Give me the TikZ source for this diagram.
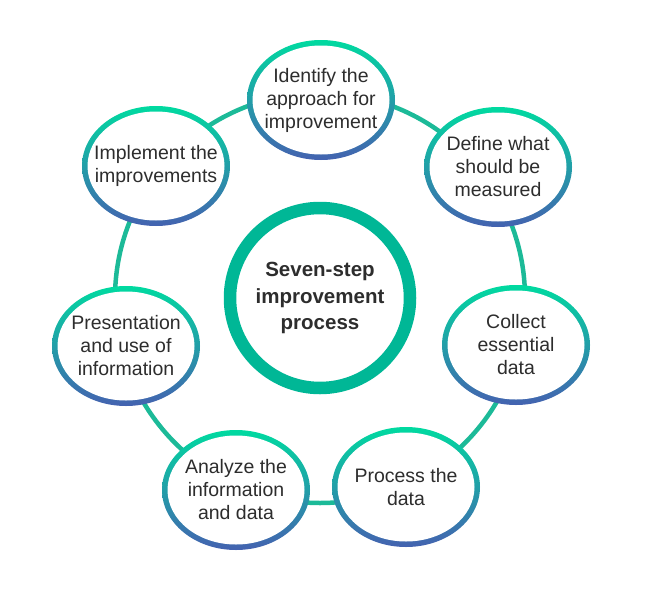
\documentclass[tikz,border=0pt]{standalone}
\usepackage{fontspec}
\setmainfont{Liberation Sans}
\usetikzlibrary{shapes.geometric,backgrounds}
\definecolor{mint}{RGB}{0,218,160}
\definecolor{sea}{RGB}{16,178,162}
\definecolor{slate}{RGB}{68,98,176}
\definecolor{ringteal}{RGB}{0,183,150}
\definecolor{orbitteal}{RGB}{28,186,152}
\definecolor{inkgray}{RGB}{45,45,45}
\begin{document}
\begin{tikzpicture}[x=1pt, y=-1pt,
    stepbox/.style={ellipse, minimum width=148pt, minimum height=120pt,
      inner xsep=-12pt, inner ysep=-12pt,
      top color=mint, middle color=sea, bottom color=slate,
      path picture={\fill[white] (path picture bounding box.center)
        ellipse (68.5pt and 54.5pt);},
      align=center, text=inkgray, font=\fontsize{19.5}{23}\selectfont},
    hub/.style={circle, draw=ringteal, line width=12.5pt, fill=white,
      minimum size=180pt, align=center, text=inkgray,
      font=\bfseries\fontsize{20.5}{26.5}\selectfont},
    orbit/.style={draw=orbitteal, line width=4.5pt}]
    \useasboundingbox (0,0) rectangle (650,597);
    \node[hub] (core) at (320,298) {Seven-step\\improvement\\process};
    % the seven steps, clockwise from the top
    \node[stepbox] (identify) at (321,100) {Identify the\\approach for\\improvement};
    \node[stepbox] (define)   at (498,167) {Define what\\should be\\measured};
    \node[stepbox] (collect)  at (516,345) {Collect\\essential\\data};
    \node[stepbox] (process)  at (406,487) {Process the\\data};
    \node[stepbox] (analyze)  at (236,490) {Analyze the\\information\\and data};
    \node[stepbox] (present)  at (126,346) {Presentation\\and use of\\information};
    \node[stepbox] (implement) at (156,166) {Implement the\\improvements};
    % ring that links the steps
    \begin{scope}[on background layer]
        \draw[orbit] (core.center) circle (205pt);
    \end{scope}
\end{tikzpicture}
\end{document}
